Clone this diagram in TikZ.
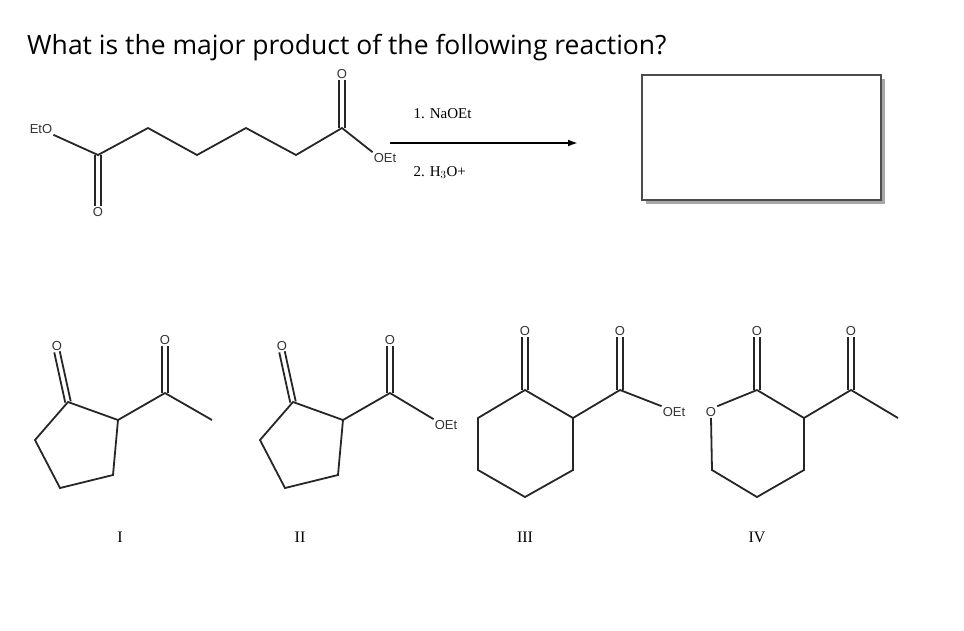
\documentclass[tikz,border=0pt]{standalone}
\usepackage{fontspec}
\setmainfont{Liberation Serif}
\newfontfamily\titlefont{Open Sans}
\newfontfamily\labfont{Liberation Sans}
\usetikzlibrary{calc,arrows.meta}
\tikzset{bond/.style={line width=1.8pt,black!85},
 atom/.style={inner sep=1pt,font=\labfont\fontsize{13}{13}\selectfont,text=black!80},
 rn/.style={font=\fontsize{16}{16}\selectfont}}
\newcommand{\dbond}[2]{\draw[bond] ($(#1)!2.8pt!90:(#2)$) -- ($(#2)!2.8pt!-90:(#1)$); \draw[bond] ($(#1)!2.8pt!-90:(#2)$) -- ($(#2)!2.8pt!90:(#1)$);}
\begin{document}
\begin{tikzpicture}[x=1pt,y=-1pt]
\useasboundingbox (0,0) rectangle (964,630);
\node[anchor=base west,inner sep=0,font=\titlefont\fontsize{26.5}{26.5}\selectfont] (title) at (27,54) {What is the major product of the following reaction?};
% starting material
\node[atom] (eto) at (41,129) {EtO};
\coordinate (a1) at (98,155);
\node[atom] (o1) at (98,212) {O};
\coordinate (a2) at (148,128); \coordinate (a3) at (197,155); \coordinate (a4) at (246,128); \coordinate (a5) at (296,155);
\coordinate (a6) at (342,128);
\node[atom] (o2) at (342,74) {O};
\node[atom] (oet1) at (385,158) {OEt};
\draw[bond] (eto.south east) -- (a1) -- (a2) -- (a3) -- (a4) -- (a5) -- (a6) -- (oet1.north west);
\dbond{a1}{o1.north}
\dbond{a6}{o2.south}
% arrow
\coordinate (ar1) at (390,143); \coordinate (ar2) at (578,143);
\draw[line width=1.8pt,-{Latex[length=10pt,width=7pt]}] (ar1) -- (ar2);
\node[anchor=base west,font=\fontsize{15}{15}\selectfont] (r1) at (410,118) {1. NaOEt};
\node[anchor=base west,font=\fontsize{15}{15}\selectfont] (r2) at (410,176) {2. H$_3$O+};
% box
\fill[black!35] (646,79) rectangle (885,204);
\draw[line width=1.5pt,black!70,fill=white] (642,75) rectangle (881,200);
% I
\coordinate (i1) at (68,402); \coordinate (i2) at (118,420); \coordinate (i3) at (113,475); \coordinate (i4) at (60,488); \coordinate (i5) at (35,440);
\node[atom] (io1) at (57,346) {O};
\coordinate (i6) at (165,393); \node[atom] (io2) at (165,340) {O}; \coordinate (i7) at (212,420);
\draw[bond] (i1) -- (i2) -- (i3) -- (i4) -- (i5) -- cycle;
\draw[bond] (i2) -- (i6) -- (i7);
\dbond{i1}{io1.south}
\dbond{i6}{io2.south}
% II
\coordinate (j1) at (293,402); \coordinate (j2) at (343,420); \coordinate (j3) at (338,475); \coordinate (j4) at (285,488); \coordinate (j5) at (260,440);
\node[atom] (jo1) at (282,346) {O};
\coordinate (j6) at (390,393); \node[atom] (jo2) at (390,340) {O}; \node[atom] (joet) at (446,425) {OEt};
\draw[bond] (j1) -- (j2) -- (j3) -- (j4) -- (j5) -- cycle;
\draw[bond] (j2) -- (j6) -- (joet.north west);
\dbond{j1}{jo1.south}
\dbond{j6}{jo2.south}
% III
\coordinate (k1) at (525,390); \coordinate (k2) at (573,418); \coordinate (k3) at (573,470); \coordinate (k4) at (525,497); \coordinate (k5) at (478,470); \coordinate (k6) at (478,418);
\node[atom] (ko1) at (525,331) {O};
\coordinate (k7) at (620,390); \node[atom] (ko2) at (620,331) {O}; \node[atom] (koet) at (674,412) {OEt};
\draw[bond] (k1) -- (k2) -- (k3) -- (k4) -- (k5) -- (k6) -- cycle;
\draw[bond] (k2) -- (k7) -- (koet.north west);
\dbond{k1}{ko1.south}
\dbond{k7}{ko2.south}
% IV
\coordinate (l1) at (757,390); \node[atom] (lo) at (711,412) {O}; \coordinate (l2) at (804,418); \coordinate (l3) at (804,470); \coordinate (l4) at (757,497); \coordinate (l5) at (712,470);
\node[atom] (lo1) at (757,331) {O};
\coordinate (l6) at (851,390); \node[atom] (lo2) at (851,331) {O}; \coordinate (l7) at (898,418);
\draw[bond] (l1) -- (l2) -- (l3) -- (l4) -- (l5) -- (lo.south);
\draw[bond] (lo.north east) -- (l1);
\draw[bond] (l2) -- (l6) -- (l7);
\dbond{l1}{lo1.south}
\dbond{l6}{lo2.south}
% labels
\node[rn] (n1) at (120,537) {I};
\node[rn] (n2) at (300,537) {II};
\node[rn] (n3) at (525,537) {III};
\node[rn] (n4) at (757,537) {IV};
\end{tikzpicture}
\end{document}
